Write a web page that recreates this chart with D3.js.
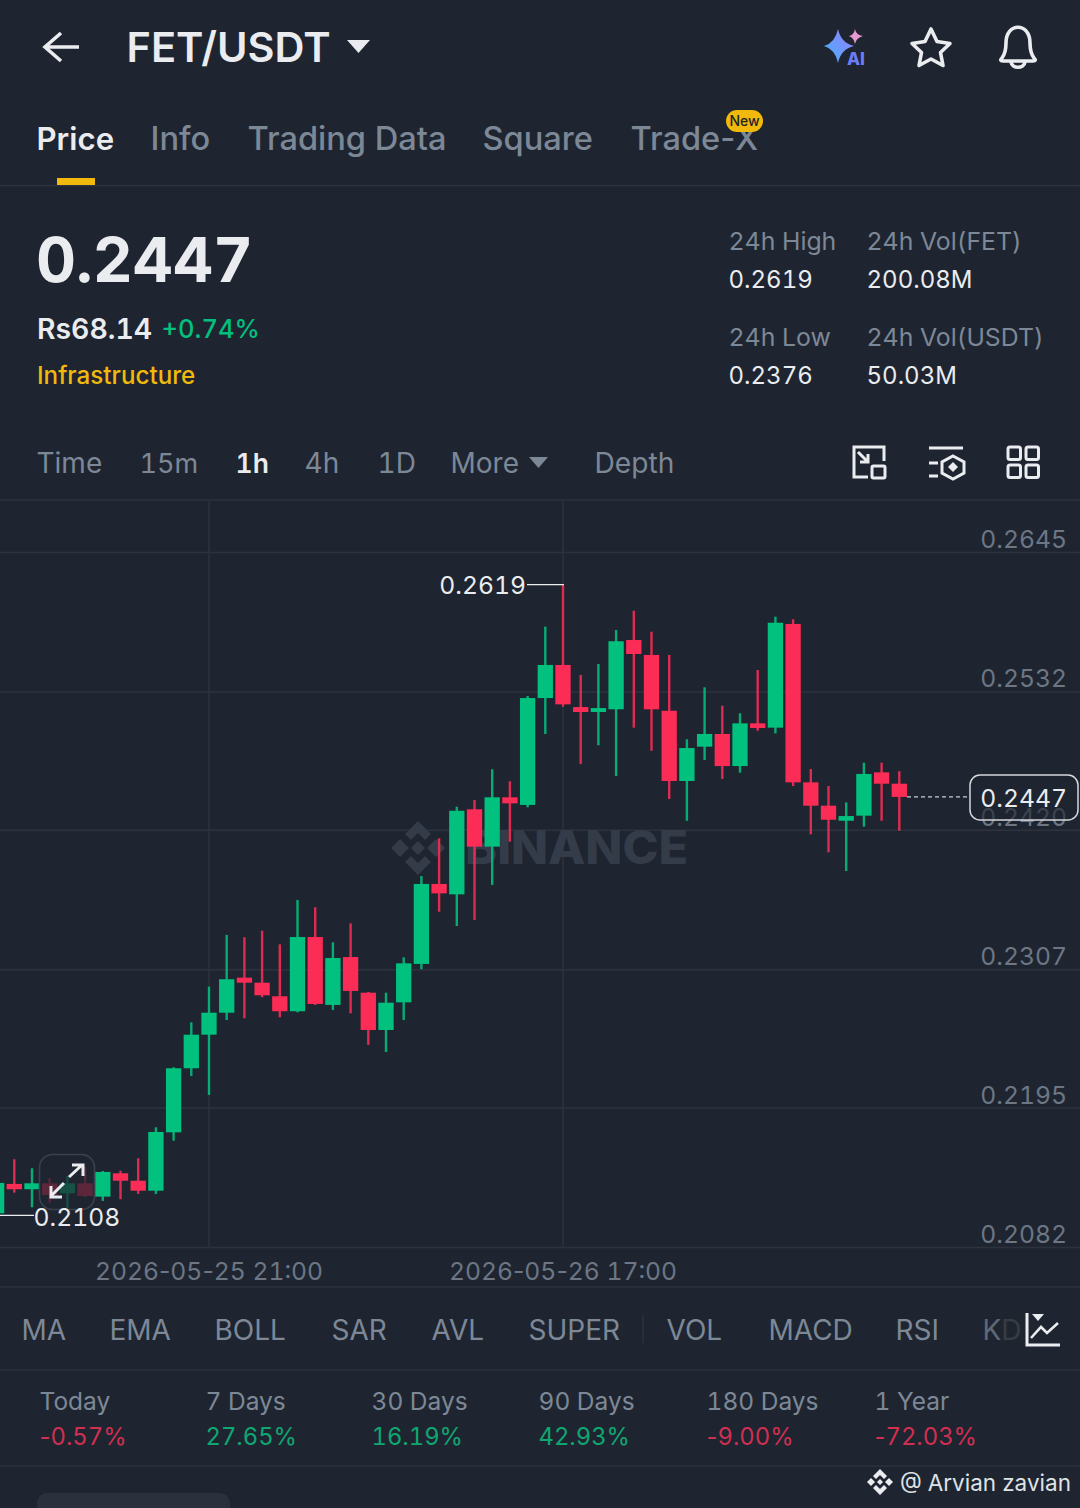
<!DOCTYPE html>
<html><head><meta charset="utf-8">
<script src="https://cdnjs.cloudflare.com/ajax/libs/d3/7.9.0/d3.min.js"></script>
<style>html,body{margin:0;padding:0;background:#1e2530;overflow:hidden}svg{display:block}text{font-family:Inter,"Noto Sans",sans-serif;font-feature-settings:"tnum" 1}</style>
</head><body><div id="c"></div>
<script>
const times=["2026-05-25 09:00","2026-05-25 10:00","2026-05-25 11:00","2026-05-25 12:00","2026-05-25 13:00","2026-05-25 14:00","2026-05-25 15:00","2026-05-25 16:00","2026-05-25 17:00","2026-05-25 18:00","2026-05-25 19:00","2026-05-25 20:00","2026-05-25 21:00","2026-05-25 22:00","2026-05-25 23:00","2026-05-26 00:00","2026-05-26 01:00","2026-05-26 02:00","2026-05-26 03:00","2026-05-26 04:00","2026-05-26 05:00","2026-05-26 06:00","2026-05-26 07:00","2026-05-26 08:00","2026-05-26 09:00","2026-05-26 10:00","2026-05-26 11:00","2026-05-26 12:00","2026-05-26 13:00","2026-05-26 14:00","2026-05-26 15:00","2026-05-26 16:00","2026-05-26 17:00","2026-05-26 18:00","2026-05-26 19:00","2026-05-26 20:00","2026-05-26 21:00","2026-05-26 22:00","2026-05-26 23:00","2026-05-27 00:00","2026-05-27 01:00","2026-05-27 02:00","2026-05-27 03:00","2026-05-27 04:00","2026-05-27 05:00","2026-05-27 06:00","2026-05-27 07:00","2026-05-27 08:00","2026-05-27 09:00","2026-05-27 10:00","2026-05-27 11:00","2026-05-27 12:00"];
const opens=[.21097,.21335,.21292,.21340,.21259,.21340,.21232,.21421,.21361,.21280,.21753,.22272,.22544,.22722,.23006,.22965,.22855,.22734,.23335,.22785,.23173,.22884,.22582,.22806,.23117,.23765,.23681,.24370,.24067,.24467,.24405,.25271,.25539,.25198,.25158,.25180,.25741,.25620,.25168,.24599,.24877,.24980,.24720,.25066,.25031,.25871,.24588,.24399,.24277,.24318,.24669,.24577];
const highs=[.21359,.21535,.21462,.21383,.21399,.21475,.21440,.21442,.21543,.21794,.22280,.22644,.22933,.23352,.23333,.23386,.23276,.23635,.23576,.23292,.23446,.22890,.22884,.23171,.23829,.24135,.24391,.24445,.24694,.24597,.25287,.25849,.26190,.25458,.25547,.25822,.25978,.25808,.25620,.24937,.25358,.25209,.25147,.25498,.25930,.25909,.24696,.24558,.24426,.24747,.24747,.24678];
const lows=[.21080,.21264,.21146,.21183,.21140,.21230,.21197,.21211,.21254,.21254,.21685,.22209,.22056,.22663,.22677,.22847,.22685,.22725,.22785,.22744,.22717,.22461,.22404,.22663,.23074,.23540,.23424,.23473,.23757,.24107,.24386,.24980,.25201,.24737,.24888,.24639,.25031,.24844,.24453,.24277,.24769,.24615,.24666,.25006,.24985,.24558,.24167,.24021,.23870,.24229,.24277,.24196];
const closes=[.21343,.21292,.21340,.21246,.21340,.21237,.21432,.21361,.21280,.21756,.22272,.22544,.22722,.22993,.22965,.22863,.22734,.23335,.22793,.23165,.22898,.22582,.22803,.23122,.23765,.23689,.24358,.24067,.24467,.24418,.25271,.25539,.25220,.25158,.25190,.25731,.25628,.25180,.24599,.24866,.24980,.24720,.25066,.25028,.25881,.24588,.24399,.24285,.24315,.24656,.24577,.24470];
const priceTicks=[0.2645,0.2532,0.2420,0.2307,0.2195,0.2082];
const timeTicks=["2026-05-25 21:00","2026-05-26 17:00"];
const lastPrice=0.2447, maxPrice=0.2619, minPrice=0.2108;
const tabs=["Price","Info","Trading Data","Square","Trade-X"];
const frames=["Time","15m","1h","4h","1D","More","Depth"];
const stats=[["24h High","0.2619"],["24h Vol(FET)","200.08M"],["24h Low","0.2376"],["24h Vol(USDT)","50.03M"]];
const indicators=["MA","EMA","BOLL","SAR","AVL","SUPER","VOL","MACD","RSI","KD"];
const periods=["Today","7 Days","30 Days","90 Days","180 Days","1 Year"];
const changes=["-0.57%","27.65%","16.19%","42.93%","-9.00%","-72.03%"];

const BG="#1e2530",GRID="#2c333f",UP="#02c07d",DOWN="#fb2c55",GREY="#7d8897",WHITE="#eaecef",YEL="#f0b90b";
const svg=d3.select("#c").append("svg").attr("width",1080).attr("height",1508);
svg.append("rect").attr("width",1080).attr("height",1508).attr("fill",BG);
// hyphens keep their natural width while the digits stay tabular
const hy=sel=>sel.each(function(){const s=this.textContent;if(!s.includes("-"))return;this.textContent="";
  s.split(/(-)/).forEach(p=>d3.select(this).append("tspan").style("font-feature-settings",p=="-"?'"tnum" 0':null).text(p));});
const T=(x,y,s,size,fill,w=400,anchor="start",g=svg)=>g.append("text").attr("x",x).attr("y",y).attr("font-size",size).attr("fill",fill).attr("font-weight",w).attr("text-anchor",anchor).text(s).call(hy);
const HL=(y,c=GRID)=>svg.append("line").attr("x1",0).attr("x2",1080).attr("y1",y).attr("y2",y).attr("stroke",c).attr("stroke-width",1.5);
[185.5,500,1287,1370,1466].forEach(y=>HL(y));

// header
svg.append("path").attr("d","M79 47H46M61 33L45 47L61 61").attr("fill","none").attr("stroke",WHITE).attr("stroke-width",3.6);
T(126.5,62,"FET/USDT",41.5,WHITE,600);
svg.append("path").attr("d","M347 40H370L358.5 53Z").attr("fill",WHITE);
const defs=svg.append("defs");
const lg=defs.append("linearGradient").attr("id","ai").attr("x1",0).attr("y1",1).attr("x2",1).attr("y2",0);
lg.append("stop").attr("offset",0).attr("stop-color","#43b4f8");lg.append("stop").attr("offset",1).attr("stop-color","#9a7bff");
svg.append("path").attr("d","M838 29Q841 43 854 46Q841 49 838 63Q835 49 824 46Q835 43 838 29Z").attr("fill","url(#ai)");
svg.append("path").attr("d","M855 29Q856 35 863 36Q856 38 855 44Q854 38 849 36Q854 35 855 29Z").attr("fill","#e79ad0");
T(847,65,"AI",17,"#6b7cf6",800);
svg.append("path").attr("d","M931 29L937 41.5L950 43.5L940.5 52.5L943 65.5L931 59L919 65.5L921.5 52.5L912 43.5L925 41.5Z").attr("fill","none").attr("stroke",WHITE).attr("stroke-width",3.6).attr("stroke-linejoin","round");
svg.append("path").attr("d","M1002 58C1005 54 1006 50 1006 43C1006 22 1030 22 1030 43C1030 50 1031 54 1034 58Q1037 61 1033 61H1003Q999 61 1002 58ZM1011 62C1012 69 1024 69 1025 62").attr("fill","none").attr("stroke",WHITE).attr("stroke-width",3.6).attr("stroke-linejoin","round");

// tabs
const tabX=[37,151,248,483,631];
tabs.forEach((t,i)=>T(tabX[i]-.5,150,t,i?32.6:31.2,i?GREY:WHITE,i?500:600));
svg.append("rect").attr("x",57).attr("y",178).attr("width",38).attr("height",7).attr("fill",YEL);
svg.append("rect").attr("x",726).attr("y",110).attr("width",37).attr("height",22).attr("rx",11).attr("fill",YEL);
T(744.5,126,"New",14,"#1e2329",500,"middle");

// price block
T(36,282,"0.2447",62,WHITE,700);
T(37,339,"Rs68.14",28.4,WHITE,600);
T(161.5,338,"+0.74%",25.5,UP,500);
T(37,384,"Infrastructure",24.2,YEL,500);
const statX=[729,867,729,867],statY=[250,250,346,346];
stats.forEach((s,i)=>{T(statX[i]-.5,statY[i],s[0],24.8,GREY);T(statX[i]-.5,statY[i]+38,s[1],24,WHITE);});

// time frames
const frameX=[37,140,236,305,378,451,595],frameSize=[28,27,26.5,28,28,28,28.2];
frames.forEach((f,i)=>T(frameX[i]-.5,473,f,frameSize[i],i==2?WHITE:GREY,i==2?600:400));
svg.append("path").attr("d","M529 457H548L538.5 468Z").attr("fill",GREY);
const ic=svg.append("g").attr("fill","none").attr("stroke",WHITE).attr("stroke-width",3);
ic.append("path").attr("d","M868 477H854V447H884V461M858 452L868 462M868 454V462H860");
ic.append("rect").attr("x",872).attr("y",466).attr("width",13).attr("height",12).attr("rx",1.5);
ic.append("path").attr("d","M929 448H963M929 463H938M929 476H938M953 456L964 462V473L953 479L942 473V462Z");
svg.append("path").attr("d","M953 462L958 467L953 472L948 467Z").attr("fill",WHITE);
[[1008,447],[1026,447],[1008,465],[1026,465]].forEach(p=>ic.append("rect").attr("x",p[0]).attr("y",p[1]).attr("width",12.5).attr("height",12.5).attr("rx",2));

// chart
const y=d3.scaleLinear().domain([0.2082,0.2645]).range([1247.5,552.5]);
const x=d3.scaleBand().domain(times).range([-12.25,908.15]).paddingInner(0.135).paddingOuter(0.0675);

const yAxis=d3.axisRight(y).tickValues(priceTicks).tickFormat(d3.format(".4f")).tickSize(1080).tickPadding(-13).offset(0);
const gy=svg.append("g").call(yAxis);
gy.select(".domain").remove();
gy.selectAll("line").attr("stroke",GRID).attr("stroke-width",1.5);
gy.selectAll("text").attr("text-anchor","end").attr("dy",0).attr("y",-4.5).attr("font-size",24.7).attr("fill","#6c7684").attr("font-family",null);

const xAxis=d3.axisBottom(x).tickValues(timeTicks).tickSize(-747).tickPadding(22).offset(0);
const gx=svg.append("g").attr("transform","translate(0,1247.5)").call(xAxis);
gx.select(".domain").remove();
gx.selectAll("line").attr("stroke",GRID).attr("stroke-width",1.5);
gx.selectAll("text").attr("dy",0).attr("y",32.5).attr("font-size",24.7).attr("fill","#6c7684").attr("font-family",null).call(hy);

// watermark
const wm="#353c49";
svg.append("g").attr("transform","translate(418,848)").selectAll("path").data(["M0 -27L13 -14L7 -8L0 -15L-7 -8L-13 -14Z","M0 27L13 14L7 8L0 15L-7 8L-13 14Z","M-27 0L-18 -9L-9 0L-18 9Z","M27 0L18 -9L9 0L18 9Z","M0 -7L7 0L0 7L-7 0Z"]).join("path").attr("d",d=>d).attr("fill",wm);
T(465,864,"BINANCE",46,wm,800).attr("textLength",223).attr("lengthAdjust","spacingAndGlyphs");

// candles
const candles=svg.append("g").selectAll("g").data(times.map((t,i)=>i)).join("g");
const col=i=>closes[i]>=opens[i]?UP:DOWN;
candles.append("line").attr("x1",i=>x(times[i])+x.bandwidth()/2).attr("x2",i=>x(times[i])+x.bandwidth()/2)
 .attr("y1",i=>y(highs[i])).attr("y2",i=>y(lows[i])).attr("stroke",col).attr("stroke-width",2.4).attr("stroke-opacity",.88);
candles.append("rect").attr("x",i=>x(times[i])).attr("width",x.bandwidth())
 .attr("y",i=>y(Math.max(opens[i],closes[i]))).attr("height",i=>Math.max(1,Math.abs(y(opens[i])-y(closes[i])))).attr("fill",col);

// high / low labels
svg.append("line").attr("x1",527).attr("x2",x(timeTicks[1])+x.bandwidth()/2+1).attr("y1",y(maxPrice)).attr("y2",y(maxPrice)).attr("stroke",WHITE).attr("stroke-width",1.3);
T(526,593.5,d3.format(".4f")(maxPrice),24.7,WHITE,400,"end");
svg.append("line").attr("x1",0).attr("x2",34).attr("y1",y(minPrice)).attr("y2",y(minPrice)).attr("stroke",WHITE).attr("stroke-width",1.3);

// expand button
svg.append("rect").attr("x",39.5).attr("y",1154.5).attr("width",55).attr("height",55).attr("rx",13).attr("fill",BG).attr("fill-opacity",.72).attr("stroke","#3a424e").attr("stroke-width",1.6);
svg.append("path").attr("d","M69 1177L82 1165M72 1165H83V1176M64 1183L51 1196M62 1197H51V1186").attr("fill","none").attr("stroke",WHITE).attr("stroke-width",3);
T(33.5,1226,d3.format(".4f")(minPrice),24.7,WHITE);

// last price
svg.append("line").attr("x1",907).attr("x2",970).attr("y1",y(lastPrice)).attr("y2",y(lastPrice)).attr("stroke","#c9cdd3").attr("stroke-width",1.3).attr("stroke-dasharray","4 3");
svg.append("rect").attr("x",970).attr("y",775).attr("width",108).attr("height",45).attr("rx",10).attr("fill",BG).attr("fill-opacity",.62).attr("stroke","#d5d8dc").attr("stroke-width",1.5);
T(1067,807,d3.format(".4f")(lastPrice),24.7,WHITE,400,"end");

// indicators
const indX=[22,110,215,332,432,529,667,769,896,983];
indicators.forEach((s,i)=>T(indX[i]-.5,1340,s,28,i==9?"#5f6875":GREY));
svg.append("rect").attr("x",1002).attr("y",1312).attr("width",24).attr("height",34).attr("fill",BG).attr("fill-opacity",.65);
svg.append("line").attr("x1",643).attr("x2",643).attr("y1",1315).attr("y2",1343).attr("stroke",GRID).attr("stroke-width",1.5);
svg.append("path").attr("d","M1027 1313V1345H1060").attr("fill","none").attr("stroke",WHITE).attr("stroke-width",3);
svg.append("path").attr("d","M1031 1338L1041 1327L1047 1333L1058 1323").attr("fill","none").attr("stroke",WHITE).attr("stroke-width",2.6);
svg.append("path").attr("d","M1032 1314H1044L1038 1321Z").attr("fill",WHITE);

// periods
const perX=[40,206,372,539,707,875];
periods.forEach((s,i)=>{T(perX[i]-.5,1410,s,24.5,GREY);T(perX[i]-.5,1445,changes[i],23.8,changes[i][0]=="-"?"#cf2f50":"#0fa672");});

// bottom
svg.append("path").attr("d","M37 1508V1505Q37 1493 49 1493H218Q230 1493 230 1505V1508Z").attr("fill","#2a313c");
svg.append("g").attr("transform","translate(880,1482)").selectAll("path").data(["M0 -13L7 -6L4 -3L0 -7L-4 -3L-7 -6Z","M0 13L7 6L4 3L0 7L-4 3L-7 6Z","M-13 0L-9 -4L-5 0L-9 4Z","M13 0L9 -4L5 0L9 4Z","M0 -3L3 0L0 3L-3 0Z"]).join("path").attr("d",d=>d).attr("fill",WHITE);
T(900,1491,"@ Arvian zavian",22.5,"#dfe2e6");
</script></body></html>
